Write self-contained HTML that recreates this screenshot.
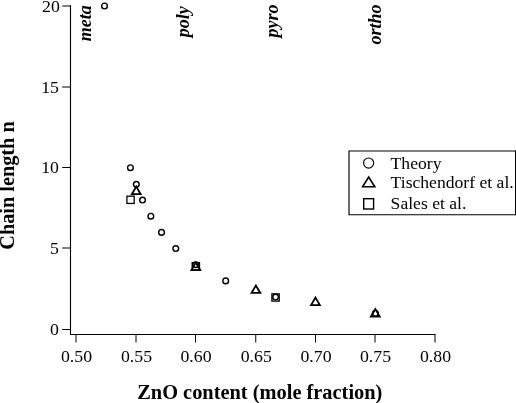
<!DOCTYPE html>
<html><head><meta charset="utf-8"><title>Chain length</title>
<style>
html,body{margin:0;padding:0;background:#fff;}
body{width:516px;height:403px;overflow:hidden;}
svg{display:block;}
text{font-family:"Liberation Serif",serif;fill:#000;}
.tk{font-size:17.2px;}
.ax{font-size:20.4px;font-weight:bold;}
.ay{font-size:20.3px;font-weight:bold;}
.an{font-size:18px;font-weight:bold;font-style:italic;}
.lg{font-size:16.7px;}
</style></head><body>
<svg width="516" height="403" viewBox="0 0 516 403">
<rect x="0" y="0" width="516" height="403" fill="#fff"/>

<g stroke="#000" stroke-width="1.1" fill="none" stroke-linecap="butt">
<path d="M70.5 5 V334.45 H435.5"/>
<path d="M62.2 329.5 H70.5" stroke-width="1"/>
<path d="M62.2 248.0 H70.5" stroke-width="1"/>
<path d="M62.2 167.5 H70.5" stroke-width="1"/>
<path d="M62.2 87.0 H70.5" stroke-width="1"/>
<path d="M62.2 6.0 H70.5" stroke-width="1"/>
<path d="M76.0 334.5 V342.5" stroke-width="1"/>
<path d="M136.0 334.5 V342.5" stroke-width="1"/>
<path d="M195.5 334.5 V342.5" stroke-width="1"/>
<path d="M255.75 334.5 V342.5" stroke-width="1"/>
<path d="M315.5 334.5 V342.5" stroke-width="1"/>
<path d="M375.0 334.5 V342.5" stroke-width="1"/>
<path d="M435.0 334.5 V342.5" stroke-width="1"/>
</g>
<text class="tk" transform="translate(59.0,335.40) scale(1.035,1)" text-anchor="end">0</text>
<text class="tk" transform="translate(59.0,253.90) scale(1.035,1)" text-anchor="end">5</text>
<text class="tk" transform="translate(59.0,173.40) scale(1.035,1)" text-anchor="end">10</text>
<text class="tk" transform="translate(59.0,92.90) scale(1.035,1)" text-anchor="end">15</text>
<text class="tk" transform="translate(59.8,11.90) scale(1.035,1)" text-anchor="end">20</text>
<text class="tk" transform="translate(76.5,362.2) scale(1.035,1)" text-anchor="middle">0.50</text>
<text class="tk" transform="translate(136.5,362.2) scale(1.035,1)" text-anchor="middle">0.55</text>
<text class="tk" transform="translate(196.0,362.2) scale(1.035,1)" text-anchor="middle">0.60</text>
<text class="tk" transform="translate(256.25,362.2) scale(1.035,1)" text-anchor="middle">0.65</text>
<text class="tk" transform="translate(316.0,362.2) scale(1.035,1)" text-anchor="middle">0.70</text>
<text class="tk" transform="translate(375.5,362.2) scale(1.035,1)" text-anchor="middle">0.75</text>
<text class="tk" transform="translate(435.5,362.2) scale(1.035,1)" text-anchor="middle">0.80</text>
<text class="ax" x="259.8" y="399.1" text-anchor="middle">ZnO content (mole fraction)</text>
<text class="ay" transform="translate(14,185.5) rotate(-90)" text-anchor="middle">Chain length n</text>
<text class="an" transform="translate(91,41.3) rotate(-90)">meta</text>
<text class="an" transform="translate(189.3,37.2) rotate(-90)">poly</text>
<text class="an" transform="translate(277.5,37.6) rotate(-90)">pyro</text>
<text class="an" transform="translate(381,44.4) rotate(-90)">ortho</text>
<g stroke="#000" fill="none">
<circle cx="104.51" cy="6.00" r="2.85" stroke-width="1.4"/>
<circle cx="130.43" cy="167.70" r="2.85" stroke-width="1.4"/>
<circle cx="136.33" cy="184.37" r="2.85" stroke-width="1.4"/>
<circle cx="142.53" cy="200.04" r="2.85" stroke-width="1.4"/>
<circle cx="150.84" cy="216.21" r="2.85" stroke-width="1.4"/>
<circle cx="161.54" cy="232.38" r="2.85" stroke-width="1.4"/>
<circle cx="175.79" cy="248.55" r="2.85" stroke-width="1.4"/>
<circle cx="195.75" cy="264.72" r="2.85" stroke-width="1.4"/>
<circle cx="225.69" cy="280.89" r="2.85" stroke-width="1.4"/>
<circle cx="275.58" cy="297.06" r="2.85" stroke-width="1.4"/>
<circle cx="375.38" cy="313.23" r="2.85" stroke-width="1.4"/>
<path d="M131.85 194.18 L136.25 186.62 L140.65 194.18 Z" stroke-width="1.8" stroke-linejoin="miter"/>
<path d="M191.40 270.17 L195.80 262.62 L200.20 270.17 Z" stroke-width="1.8" stroke-linejoin="miter"/>
<path d="M251.50 292.97 L255.90 285.43 L260.30 292.97 Z" stroke-width="1.8" stroke-linejoin="miter"/>
<path d="M311.05 305.17 L315.45 297.62 L319.85 305.17 Z" stroke-width="1.8" stroke-linejoin="miter"/>
<path d="M370.95 316.57 L375.35 309.03 L379.75 316.57 Z" stroke-width="1.8" stroke-linejoin="miter"/>
<rect x="126.90" y="196.15" width="7.3" height="7.3" stroke-width="1.3"/>
<rect x="192.20" y="262.65" width="7.3" height="7.3" stroke-width="1.3"/>
<rect x="271.90" y="293.85" width="7.3" height="7.3" stroke-width="1.3"/>
</g>
<rect x="349" y="151" width="166.5" height="63.7" fill="#fff" stroke="none"/>
<path d="M515.5 151 H349 V214.7 H515.5" fill="none" stroke="#000" stroke-width="1.15" stroke-linejoin="miter"/>
<path d="M515.5 150.4 V215.3" fill="none" stroke="#000" stroke-width="1"/>
<g stroke="#000" fill="none">
<circle cx="368.6" cy="163" r="5.05" stroke-width="1.15"/>
<path d="M362.60 186.70 L368.70 177.00 L374.80 186.70 Z" stroke-width="1.6" stroke-linejoin="miter"/>
<rect x="363.7" y="198.7" width="9.9" height="10.3" stroke-width="1.4"/>
</g>
<text class="lg" transform="translate(390.6,168.7) scale(1.055,1)">Theory</text>
<text class="lg" transform="translate(390.6,188.3) scale(1.055,1)">Tischendorf et al.</text>
<text class="lg" transform="translate(390.6,208.8) scale(1.055,1)">Sales et al.</text>
</svg></body></html>
